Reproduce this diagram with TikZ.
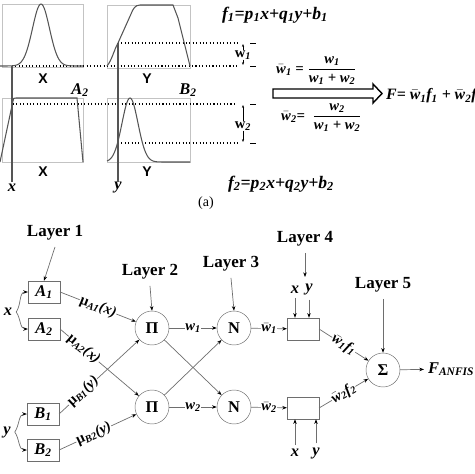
\documentclass[tikz,border=0pt]{standalone}
\usepackage{amsmath}
\usepackage{fontspec}
\setmainfont{Liberation Serif}
\setsansfont{Liberation Sans}
\usetikzlibrary{arrows.meta,positioning}
\definecolor{linegray}{RGB}{110,110,110}
\definecolor{framegray}{RGB}{195,195,195}
\definecolor{curvegray}{RGB}{85,85,85}
\newcommand{\wi}[1]{\textit{w}\textsubscript{#1}}
\newcommand{\wb}[1]{$\bar{\mbox{\textit{w}}}$\textsubscript{#1}}

\begin{document}
\begin{tikzpicture}[
        x=0.03cm, y=-0.03cm,
        font=\fontsize{14}{16}\selectfont\bfseries,
        frame/.style={draw=framegray, line width=0.8pt},
        curve/.style={draw=curvegray, line width=0.9pt},
        guide/.style={dotted, line width=0.9pt, black},
        probe/.style={draw=curvegray, line width=1.4pt},
        axis/.style={font=\fontsize{12}{14}\selectfont\sffamily\bfseries},
        eq/.style={font=\fontsize{14}{16}\selectfont\bfseries\itshape},
        frac/.style={font=\fontsize{12.5}{14}\selectfont\bfseries\itshape, inner sep=0pt},
        layer/.style={font=\fontsize{14.5}{16}\selectfont\bfseries},
        arr/.style={draw=linegray, line width=0.6pt, -{Stealth[length=4pt,width=3pt,black]}},
        mfbox/.style={draw=linegray, rectangle, minimum width=0.95cm, minimum height=0.66cm,
            inner sep=0pt, font=\fontsize{14}{16}\selectfont\bfseries\itshape},
        op/.style={draw=linegray, circle, minimum size=1.02cm, inner sep=0pt, fill=white},
        lbl/.style={fill=white, inner sep=0.5pt, font=\fontsize{12.5}{14}\selectfont\bfseries\itshape}
    ]
    \useasboundingbox (0,0) rectangle (474,474);

    % (a) membership functions
    \draw[frame] (2,4) rectangle (83,67);
    \draw[frame] (107,5) rectangle (190,68);
    \draw[frame] (2,98) rectangle (83,162);
    \draw[frame] (107,98) rectangle (190,162);

    \draw[guide] (12,66) -- (237,66);
    \draw[guide] (118,43) -- (237,43);
    \draw[guide] (13,104) -- (237,104);
    \draw[guide] (118,143) -- (237,143);

    \draw[curve] plot[domain=0:83, samples=80] (\x, {66-62*exp(((\x-41)/8.5)^2/(-2))});
    \draw[curve] (107,66) .. controls (112,60) and (114,50) .. (118,43) -- (131,14)
        .. controls (133,9) and (135,5) .. (140,5) -- (173,5) -- (178,18) -- (190,66);
    \draw[curve] (0,162) -- (13,101) .. controls (13.5,98) .. (16,98) -- (77,98) -- (83,162);
    \draw[curve] plot[domain=107:190, samples=80] (\x, {162-64*exp(((\x-130)/8)^2/(-2))});

    \draw[probe] (12,66) -- (12,182);
    \draw[probe] (118,43) -- (118,182);

    \node[axis] (X1) at (43,79) {X};
    \node[axis] (Y1) at (147,79) {Y};
    \node[axis] (X2) at (43,172) {X};
    \node[axis] (Y2) at (147,172) {Y};
    \node[eq] (A2top) at (80,90) {A\textsubscript{2}};
    \node[eq] (B2top) at (188,90) {B\textsubscript{2}};
    \node[eq] (xval) at (12,188) {x};
    \node[eq] (yval) at (118,188) {y};

    \node[frac] (w1gap) at (243,55) {\textup{w}\textsubscript{1}};
    \node[frac] (w2gap) at (243,126) {\textup{w}\textsubscript{2}};
    \draw[-{Stealth[length=2.5pt]}] (w1gap.north) -- (243,44);
    \draw[-{Stealth[length=2.5pt]}] (w1gap.south) -- (243,65);
    \draw[-{Stealth[length=2.5pt]}] (w2gap.north) -- (243,105);
    \draw[-{Stealth[length=2.5pt]}] (w2gap.south) -- (243,142);
    \foreach \yy in {43,66,104,143}
        \draw (250,\yy) -- (256,\yy);

    \node[eq, anchor=west, font=\fontsize{15}{17}\selectfont\bfseries\itshape] (f1) at (218,15)
        {f\textsubscript{1}=p\textsubscript{1}x+q\textsubscript{1}y+b\textsubscript{1}};
    \node[eq, anchor=west, font=\fontsize{15}{17}\selectfont\bfseries\itshape] (f2) at (224,184)
        {f\textsubscript{2}=p\textsubscript{2}x+q\textsubscript{2}y+b\textsubscript{2}};
    \node[frac, anchor=west] (w1bar) at (276,71)
        {\wb{1} = $\dfrac{\mbox{\wi{1}}}{\mbox{\wi{1} + \wi{2}}}$};
    \node[frac, anchor=west] (w2bar) at (281,118)
        {\wb{2}= \ $\dfrac{\mbox{\wi{2}}}{\mbox{\wi{1} + \wi{2}}}$};
    \draw[line width=1.2pt, fill=white] (273,89) -- (373,89) -- (373,84) -- (382,93.5)
        -- (373,103) -- (373,98) -- (273,98) -- cycle;
    \node[frac, anchor=west, font=\fontsize{13.5}{15}\selectfont\bfseries\itshape] (Fsum) at (386,96)
        {F= \wb{1}f\textsubscript{1} + \wb{2}f\textsubscript{2}};
    \node[font=\fontsize{12}{14}\selectfont] (capa) at (206,203) {(a)};

    % (b) ANFIS layers
    \node[layer] (L1) at (55,233) {Layer 1};
    \node[layer] (L2) at (150,272) {Layer 2};
    \node[layer] (L3) at (231,264) {Layer 3};
    \node[layer] (L4) at (305,239) {Layer 4};
    \node[layer] (L5) at (383,285) {Layer 5};

    \node[eq] (xin) at (8,312) {x};
    \node[eq] (yin) at (7,432) {y};
    \node[mfbox] (A1) at (44,292) {A\textsubscript{1}};
    \node[mfbox] (A2) at (44,329) {A\textsubscript{2}};
    \node[mfbox] (B1) at (43,414) {B\textsubscript{1}};
    \node[mfbox] (B2) at (43,450) {B\textsubscript{2}};

    \node[op] (P1) at (152,328) {Π};
    \node[op] (P2) at (152,407) {Π};
    \node[op] (N1) at (234,328) {N};
    \node[op] (N2) at (234,407) {N};
    \node[mfbox] (R1) at (303,329) {};
    \node[mfbox] (R2) at (303,408) {};
    \node[op] (S) at (383,370) {Σ};
    \node[eq, anchor=west] (Fout) at (424,369) {F\textsubscript{ANFIS}};

    \node[eq] (x4a) at (295,290) {x};
    \node[eq] (y4a) at (309,290) {y};
    \node[eq] (x4b) at (295,453) {x};
    \node[eq] (y4b) at (316,453) {y};
    \coordinate (L4end) at (305,277);

    \draw[arr] ([yshift=-2pt]L1.south) -- (A1.north);
    \draw[arr] ([yshift=-2pt]L2.south) -- (P1.north);
    \draw[arr] ([yshift=-2pt]L3.south) -- (N1.north);
    \draw[arr] ([yshift=-2pt]L4.south) -- (L4end);
    \draw[arr] ([yshift=-2pt]L5.south) -- (S.north);

    \draw[arr] (xin.east) to[out=55,in=180] (A1.west);
    \draw[arr] (xin.east) to[out=-55,in=180] (A2.west);
    \draw[arr] (yin.east) to[out=55,in=180] (B1.west);
    \draw[arr] (yin.east) to[out=-55,in=180] (B2.west);

    \draw[arr] (A1.east) -- node[lbl, sloped, pos=0.5] {{\upshape μ}\textsubscript{A1}(x)} (P1);
    \draw[arr] (A2.east) -- node[lbl, sloped, pos=0.3] {{\upshape μ}\textsubscript{A2}(x)} (P2);
    \draw[arr] (B1.east) -- node[lbl, sloped, pos=0.3] {{\upshape μ}\textsubscript{B1}(y)} (P1);
    \draw[arr] (B2.east) -- node[lbl, sloped, pos=0.45] {{\upshape μ}\textsubscript{B2}(y)} (P2);

    \draw[arr] (P1) -- node[lbl] {w\textsubscript{1}} (N1);
    \draw[arr] (P2) -- node[lbl] {w\textsubscript{2}} (N2);
    \draw[arr] (P1) -- (N2);
    \draw[arr] (P2) -- (N1);

    \draw[arr] (N1) -- node[lbl] {\wb{1}} (R1);
    \draw[arr] (N2) -- node[lbl] {\wb{2}} (R2);
    \draw[arr] (x4a) -- (x4a |- R1.north);
    \draw[arr] (y4a) -- (y4a |- R1.north);
    \draw[arr] (x4b) -- (x4b |- R2.south);
    \draw[arr] (y4b) -- (y4b |- R2.south);

    \draw[arr] (R1.east) -- node[lbl, sloped] {\wb{1}f\textsubscript{1}} (S);
    \draw[arr] (R2.east) -- node[lbl, sloped] {\wb{2}f\textsubscript{2}} (S);
    \draw[arr] (S) -- (Fout);
\end{tikzpicture}
\end{document}
